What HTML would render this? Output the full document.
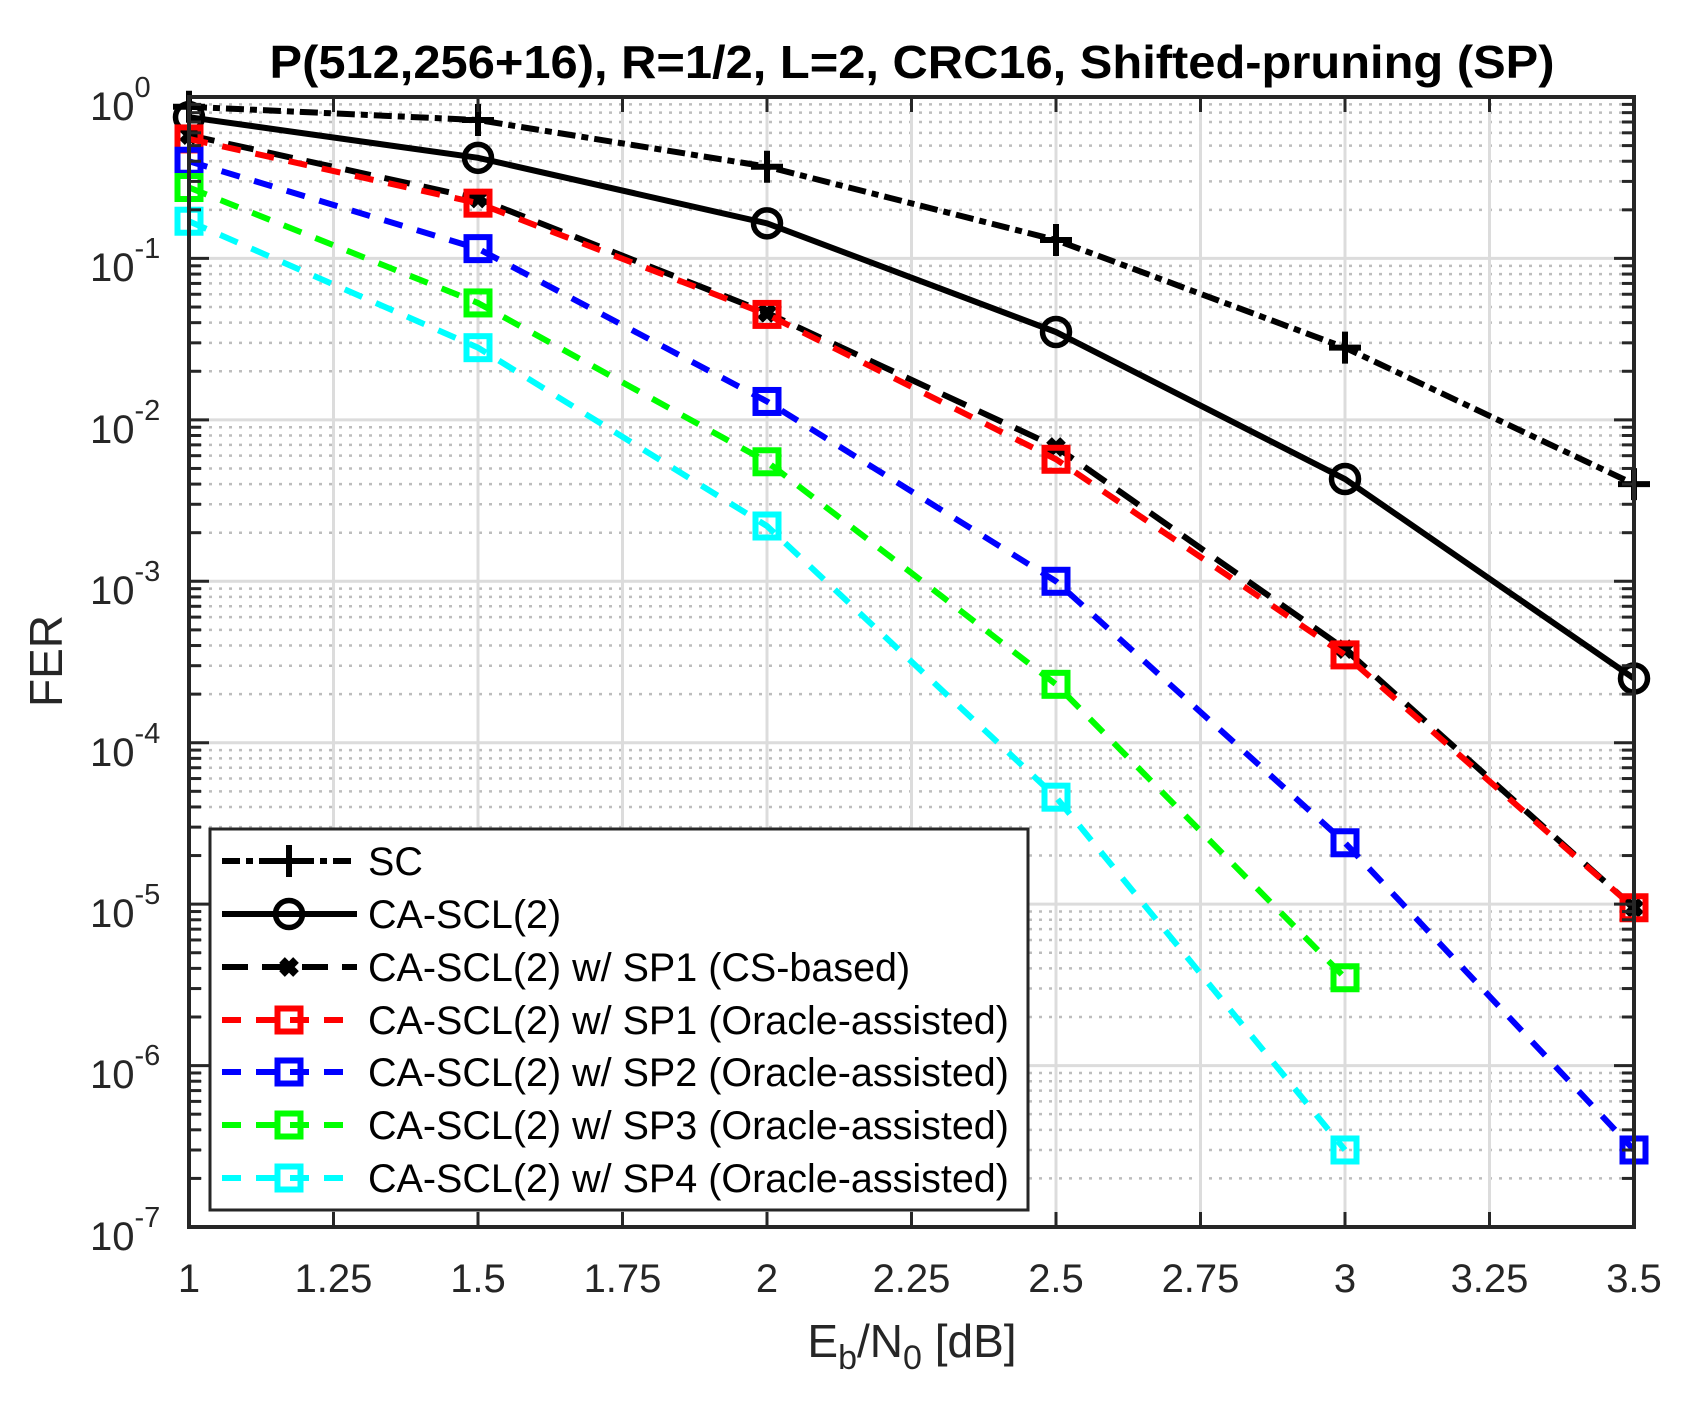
<!DOCTYPE html>
<html><head><meta charset="utf-8"><style>
html,body{margin:0;padding:0;background:#fff;}
svg{display:block;font-family:"Liberation Sans",Arial,sans-serif;}
</style></head><body>
<svg id="s" width="1687" height="1407" viewBox="0 0 1687 1407" xmlns="http://www.w3.org/2000/svg">
<rect width="1687" height="1407" fill="#fff"/>
<g id="grid"></g>
<g id="data"></g>
<g id="axes"></g>
<text x="912" y="78" font-size="46" font-weight="bold" text-anchor="middle" textLength="1285" lengthAdjust="spacingAndGlyphs" fill="#000">P(512,256+16), R=1/2, L=2, CRC16, Shifted-pruning (SP)</text>
<g font-size="40" fill="#262626" text-anchor="middle">
<text x="189" y="1292">1</text>
<text x="333.5" y="1292">1.25</text>
<text x="478" y="1292">1.5</text>
<text x="622.5" y="1292">1.75</text>
<text x="767" y="1292">2</text>
<text x="911.5" y="1292">2.25</text>
<text x="1056" y="1292">2.5</text>
<text x="1200.5" y="1292">2.75</text>
<text x="1345" y="1292">3</text>
<text x="1489.5" y="1292">3.25</text>
<text x="1634" y="1292">3.5</text>
</g>
<g font-size="40" fill="#262626">
<text x="90" y="120">10<tspan font-size="29" dy="-23">0</tspan></text>
<text x="90" y="281">10<tspan font-size="29" dy="-23">-1</tspan></text>
<text x="90" y="443">10<tspan font-size="29" dy="-23">-2</tspan></text>
<text x="90" y="604">10<tspan font-size="29" dy="-23">-3</tspan></text>
<text x="90" y="766">10<tspan font-size="29" dy="-23">-4</tspan></text>
<text x="90" y="927">10<tspan font-size="29" dy="-23">-5</tspan></text>
<text x="90" y="1088">10<tspan font-size="29" dy="-23">-6</tspan></text>
<text x="90" y="1250">10<tspan font-size="29" dy="-23">-7</tspan></text>
</g>
<text x="0" y="0" font-size="46" fill="#262626" text-anchor="middle" transform="translate(62,661) rotate(-90)">FER</text>
<text x="912" y="1357" font-size="46" fill="#262626" text-anchor="middle">E<tspan font-size="34" dy="12">b</tspan><tspan dy="-12">/N</tspan><tspan font-size="34" dy="12">0</tspan><tspan dy="-12"> [dB]</tspan></text>
<rect x="210" y="829" width="818" height="381" fill="#fff" stroke="#262626" stroke-width="3"/>
<g id="leg"></g>
<g font-size="39.5" fill="#000">
<text x="368" y="875">SC</text>
<text x="368" y="928">CA-SCL(2)</text>
<text x="368" y="981">CA-SCL(2) w/ SP1 (CS-based)</text>
<text x="368" y="1034">CA-SCL(2) w/ SP1 (Oracle-assisted)</text>
<text x="368" y="1086">CA-SCL(2) w/ SP2 (Oracle-assisted)</text>
<text x="368" y="1139">CA-SCL(2) w/ SP3 (Oracle-assisted)</text>
<text x="368" y="1192">CA-SCL(2) w/ SP4 (Oracle-assisted)</text>
</g>
</svg>
<script>
(function(){
var NS="http://www.w3.org/2000/svg";
var L=189,R=1634,T=97,B=1227,D=161.43;
function X(v){return L+(v-1)/2.5*(R-L);}
function Y(v){return T-Math.log10(v)*D;}
function el(p,n,a){var e=document.createElementNS(NS,n);for(var k in a)e.setAttribute(k,a[k]);p.appendChild(e);return e;}
var g=document.getElementById('grid'),ax=document.getElementById('axes'),dg=document.getElementById('data'),lg=document.getElementById('leg');
for(var k=1;k<=7;k++)for(var m=2;m<=9;m++){var y=T+k*D-Math.log10(m)*D;
 el(g,'line',{x1:L,x2:R,y1:y,y2:y,stroke:'#bdbdbd','stroke-width':2.5,'stroke-dasharray':'3 7'});
 el(ax,'line',{x1:L,x2:L+12,y1:y,y2:y,stroke:'#262626','stroke-width':3});
 el(ax,'line',{x1:R,x2:R-12,y1:y,y2:y,stroke:'#262626','stroke-width':3});}
for(var k=0;k<=7;k++){var y=T+k*D;
 el(g,'line',{x1:L,x2:R,y1:y,y2:y,stroke:'#dcdcdc','stroke-width':3});
 el(ax,'line',{x1:L,x2:L+20,y1:y,y2:y,stroke:'#262626','stroke-width':3});
 el(ax,'line',{x1:R,x2:R-20,y1:y,y2:y,stroke:'#262626','stroke-width':3});}
for(var i=0;i<=10;i++){var x=X(1+i*0.25);
 el(g,'line',{x1:x,x2:x,y1:T,y2:B,stroke:'#dcdcdc','stroke-width':3});
 el(ax,'line',{x1:x,x2:x,y1:B,y2:B-15,stroke:'#262626','stroke-width':3});
 el(ax,'line',{x1:x,x2:x,y1:T,y2:T+15,stroke:'#262626','stroke-width':3});}
el(ax,'rect',{x:L,y:T,width:R-L,height:B-T,fill:'none',stroke:'#262626','stroke-width':4});
var xs=[1,1.5,2,2.5,3,3.5];
var S=[
 {c:'#000',d:'18 6 7 6',m:'plus',v:[0.87,0.72,0.37,0.13,0.028,0.004]},
 {c:'#000',d:'',m:'circ',v:[0.75,0.42,0.165,0.035,0.0043,2.5e-4]},
 {c:'#000',d:'26 14',m:'x',v:[0.58,0.235,0.046,0.0068,3.8e-4,9.5e-6]},
 {c:'#ff0000',d:'19 15',m:'sq',v:[0.55,0.22,0.045,0.0057,3.5e-4,9.5e-6]},
 {c:'#0000ff',d:'19 15',m:'sq',v:[0.40,0.115,0.013,0.001,2.4e-5,3e-7]},
 {c:'#00ff00',d:'19 15',m:'sq',v:[0.275,0.053,0.0055,2.3e-4,3.5e-6]},
 {c:'#00ffff',d:'19 15',m:'sq',v:[0.17,0.028,0.0022,4.6e-5,3e-7]}
];
function mk(p,t,x,y,c){
 if(t=='plus'){el(p,'path',{d:'M'+(x-16)+' '+y+'H'+(x+16)+'M'+x+' '+(y-16)+'V'+(y+16),stroke:c,'stroke-width':6,fill:'none'});}
 else if(t=='circ'){el(p,'circle',{cx:x,cy:y,r:13.5,stroke:c,'stroke-width':5.5,fill:'none'});}
 else if(t=='x'){el(p,'path',{d:'M'+(x-7)+' '+(y-7)+'L'+(x+7)+' '+(y+7)+'M'+(x+7)+' '+(y-7)+'L'+(x-7)+' '+(y+7),stroke:c,'stroke-width':8,fill:'none'});}
 else {el(p,'rect',{x:x-11.5,y:y-11.5,width:23,height:23,stroke:c,'stroke-width':6,fill:'none'});}
}
var rows=[861,914,967,1020,1072,1125,1178];
S.forEach(function(s,i){
 var pts=s.v.map(function(v,j){return X(xs[j])+','+Y(v);}).join(' ');
 var a={points:pts,fill:'none',stroke:s.c,'stroke-width':6};
 if(s.d)a['stroke-dasharray']=s.d;
 el(dg,'polyline',a);
 s.v.forEach(function(v,j){mk(dg,s.m,X(xs[j]),Y(v),s.c);});
 var y=rows[i];
 var b={x1:222,x2:357,y1:y,y2:y,stroke:s.c,'stroke-width':6};
 if(s.d)b['stroke-dasharray']=s.d;
 el(lg,'line',b);
 mk(lg,s.m,289,y,s.c);
});
})();
</script>
</body></html>
